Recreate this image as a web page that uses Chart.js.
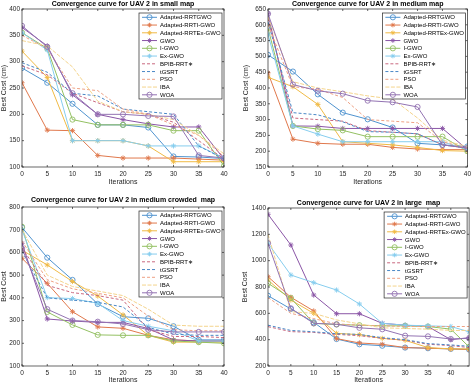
<!DOCTYPE html>
<html>
<head>
<meta charset="utf-8">
<script src="https://cdn.jsdelivr.net/npm/chart.js@4.4.0/dist/chart.umd.min.js"></script>
<style>
  html, body { margin: 0; padding: 0; background: #fff; }
  #wrap { position: relative; width: 474px; height: 386px; overflow: hidden; }
  .panel { position: absolute; width: 237px; height: 193px; }
</style>
</head>
<body>
<div id="wrap">
  <div class="panel" style="left:0;top:0"><canvas id="c1" width="237" height="193"></canvas></div>
  <div class="panel" style="left:237px;top:0"><canvas id="c2" width="237" height="193"></canvas></div>
  <div class="panel" style="left:0;top:193px"><canvas id="c3" width="237" height="193"></canvas></div>
  <div class="panel" style="left:237px;top:193px"><canvas id="c4" width="237" height="193"></canvas></div>
</div>
<script>
const seriesNames = [
  "Adapted-RRTGWO", "Adapted-RRTI-GWO", "Adapted-RRTEx-GWO", "GWO", "I-GWO",
  "Ex-GWO", "BPIB-RRT\u2217", "tGSRT", "PSO", "IBA", "WOA"
];

const iters = [0, 5, 10, 15, 20, 25, 30, 35, 40];
const itersLarge = [0, 5, 10, 15, 20, 25, 30, 35, 40, 44];

// one row per series, same order as seriesNames
const smallMapCost = [
  [288, 260, 220, 180, 180, 175, 120, 119, 116],
  [260, 170, 169, 122, 117, 117, 117, 115, 113],
  [320, 270, 150, 150, 150, 140, 110, 110, 110],
  [365, 330, 237, 200, 190, 182, 176, 176, 115],
  [355, 325, 190, 180, 180, 180, 169, 169, 102],
  [355, 322, 150, 150, 150, 140, 140, 140, 117],
  [292, 275, 240, 222, 205, 200, 185, 150, 115],
  [298, 280, 240, 235, 210, 205, 200, 140, 115],
  [350, 325, 250, 245, 210, 200, 180, 160, 120],
  [340, 330, 290, 225, 205, 200, 190, 160, 125],
  [368, 328, 240, 200, 200, 197, 196, 122, 117]
];

const mediumMapCost = [
  [505, 452, 380, 322, 301, 275, 225, 220, 215],
  [448, 238, 225, 222, 222, 212, 207, 205, 205],
  [434, 404, 348, 230, 225, 220, 212, 202, 200],
  [635, 280, 279, 272, 272, 272, 272, 272, 205],
  [590, 280, 270, 266, 246, 246, 246, 246, 200],
  [570, 280, 254, 230, 230, 230, 230, 230, 205],
  [620, 305, 300, 295, 265, 260, 255, 220, 210],
  [610, 322, 315, 293, 262, 260, 255, 220, 210],
  [600, 404, 396, 370, 300, 295, 290, 230, 210],
  [625, 420, 400, 388, 375, 365, 305, 235, 215],
  [635, 411, 391, 382, 360, 355, 340, 220, 210]
];

const crowdedMapCost = [
  [710, 577, 479, 373, 317, 310, 275, 215, 215],
  [574, 464, 339, 272, 266, 235, 215, 210, 210],
  [610, 545, 472, 408, 325, 235, 205, 205, 205],
  [640, 307, 298, 292, 292, 265, 215, 210, 210],
  [713, 338, 281, 237, 235, 235, 210, 205, 200],
  [700, 401, 397, 376, 300, 275, 255, 210, 210],
  [620, 455, 423, 410, 390, 260, 230, 230, 225],
  [605, 400, 390, 380, 360, 270, 240, 235, 235],
  [650, 480, 440, 420, 400, 320, 260, 255, 255],
  [700, 500, 450, 430, 410, 350, 280, 275, 275],
  [618, 350, 300, 295, 285, 260, 250, 250, 250]
];

const largeMapCost = [
  [734, 633, 532, 405, 365, 354, 340, 335, 330, 325],
  [878, 722, 618, 408, 375, 365, 340, 335, 330, 325],
  [853, 701, 600, 448, 438, 410, 395, 340, 330, 330],
  [1352, 1119, 739, 597, 597, 524, 510, 500, 400, 415],
  [828, 716, 524, 515, 510, 505, 505, 500, 480, 345],
  [1132, 891, 833, 777, 671, 524, 510, 505, 500, 460],
  [499, 461, 455, 440, 430, 410, 395, 365, 355, 340],
  [510, 470, 460, 445, 440, 415, 400, 370, 360, 350],
  [720, 600, 560, 520, 510, 505, 500, 500, 500, 500],
  [1200, 612, 600, 550, 520, 490, 485, 480, 470, 470],
  [1132, 638, 524, 517, 490, 479, 430, 425, 405, 410]
];

const seriesStyle = [
  { color: "#4f93cf", dash: [], marker: "circle" },
  { color: "#e0784c", dash: [], marker: "star" },
  { color: "#f0ba45", dash: [], marker: "star" },
  { color: "#8a55a6", dash: [], marker: "star" },
  { color: "#93c062", dash: [], marker: "circle" },
  { color: "#86cdee", dash: [], marker: "star" },
  { color: "#c9687f", dash: [3, 2], marker: null },
  { color: "#4a88c6", dash: [3, 2], marker: null },
  { color: "#eea184", dash: [3, 2], marker: null },
  { color: "#f4d48c", dash: [4, 1.5], marker: null },
  { color: "#9373b2", dash: [], marker: "circle" }
];

const FONT = "'Liberation Sans', Arial, sans-serif";
const AX = "#262626";

function drawMarker(ctx, type, x, y, color) {
  if (!type) return;
  ctx.save();
  ctx.setLineDash([]);
  ctx.strokeStyle = color;
  ctx.lineWidth = 0.9;
  ctx.beginPath();
  if (type === "circle") {
    ctx.arc(x, y, 2.6, 0, Math.PI * 2);
  } else {
    const r = 2.3;
    for (let k = 0; k < 4; k++) {
      const a = (k * Math.PI) / 4;
      ctx.moveTo(x - r * Math.cos(a), y - r * Math.sin(a));
      ctx.lineTo(x + r * Math.cos(a), y + r * Math.sin(a));
    }
  }
  ctx.stroke();
  ctx.restore();
}

const matlabFrame = {
  id: "matlabFrame",
  afterDatasetsDraw(chart, args, opts) {
    const ctx = chart.ctx;
    const ca = chart.chartArea;
    const xs = chart.scales.x, ys = chart.scales.y;
    ctx.save();
    // box + inward ticks
    ctx.strokeStyle = AX;
    ctx.lineWidth = 0.7;
    ctx.setLineDash([]);
    ctx.strokeRect(ca.left, ca.top, ca.right - ca.left, ca.bottom - ca.top);
    ctx.beginPath();
    xs.ticks.forEach((t) => {
      const px = xs.getPixelForValue(t.value);
      ctx.moveTo(px, ca.bottom); ctx.lineTo(px, ca.bottom - 2);
      ctx.moveTo(px, ca.top); ctx.lineTo(px, ca.top + 2);
    });
    ys.ticks.forEach((t) => {
      const py = ys.getPixelForValue(t.value);
      ctx.moveTo(ca.left, py); ctx.lineTo(ca.left + 2, py);
      ctx.moveTo(ca.right, py); ctx.lineTo(ca.right - 2, py);
    });
    ctx.stroke();

    // title
    ctx.fillStyle = "#000";
    ctx.font = "bold 7px " + FONT;
    ctx.textAlign = "center";
    ctx.textBaseline = "middle";
    ctx.fillText(opts.title, (ca.left + ca.right) / 2, ca.top - opts.titleGap);

    // legend box inside top-right
    const w = 83, h = 86;
    const bx = ca.right - 2 - w, by = ca.top + 4;
    ctx.fillStyle = "#fff";
    ctx.fillRect(bx, by, w, h);
    ctx.strokeStyle = AX;
    ctx.lineWidth = 0.7;
    ctx.strokeRect(bx, by, w, h);
    ctx.font = "6px " + FONT;
    ctx.textAlign = "left";
    chart.data.datasets.forEach((ds, i) => {
      const st = seriesStyle[i];
      const y = by + 4.3 + i * 7.75;
      ctx.strokeStyle = st.color;
      ctx.lineWidth = 1;
      ctx.setLineDash(st.dash);
      ctx.beginPath();
      ctx.moveTo(bx + 3, y); ctx.lineTo(bx + 18, y);
      ctx.stroke();
      drawMarker(ctx, st.marker, bx + 10.5, y, st.color);
      ctx.fillStyle = "#000";
      ctx.fillText(ds.label, bx + 21, y + 0.5);
    });
    ctx.restore();
  }
};

function makeChart(id, cfg) {
  const datasets = cfg.rows.map((row, i) => {
    const st = seriesStyle[i];
    return {
      label: seriesNames[i],
      data: cfg.xs.map((x, j) => ({ x: x, y: row[j] })),
      borderColor: st.color,
      borderWidth: 1,
      borderDash: st.dash,
      pointStyle: st.marker || false,
      pointRadius: st.marker ? 2.6 : 0,
      pointBorderWidth: 0.9,
      pointBorderColor: st.color,
      pointBackgroundColor: "rgba(0,0,0,0)",
      tension: 0,
      fill: false,
      order: 11 - i
    };
  });

  return new Chart(document.getElementById(id), {
    type: "line",
    data: { datasets: datasets },
    options: {
      responsive: false,
      animation: false,
      events: [],
      layout: { padding: { top: cfg.padTop, right: cfg.padRight, left: 0, bottom: 0 } },
      plugins: {
        legend: { display: false },
        title: { display: false },
        tooltip: { enabled: false },
        matlabFrame: { title: cfg.title, titleGap: cfg.titleGap }
      },
      scales: {
        x: {
          type: "linear",
          min: 0,
          max: cfg.xMax,
          grid: { display: false, drawTicks: false },
          border: { display: false },
          ticks: { stepSize: 5, color: AX, font: { size: 6.5, family: FONT }, padding: 3, maxRotation: 0 },
          title: { display: true, text: "Iterations", color: AX, font: { size: 7, family: FONT }, padding: { top: 0, bottom: cfg.xTitlePad } },
          afterBuildTicks: (s) => { s.ticks = s.ticks.filter((t) => t.value <= 40); },
          afterFit: (s) => { s.height = cfg.xHeight; }
        },
        y: {
          min: cfg.yMin,
          max: cfg.yMax,
          grid: { display: false, drawTicks: false },
          border: { display: false },
          ticks: { stepSize: cfg.yStep, color: AX, font: { size: 6.5, family: FONT }, padding: 2, callback: (v) => String(v) },
          title: { display: true, text: cfg.yTitle, color: AX, font: { size: 7, family: FONT }, padding: { top: cfg.yTitlePad, bottom: 0 } },
          afterFit: (s) => { s.width = cfg.yWidth; }
        }
      }
    },
    plugins: [matlabFrame]
  });
}

makeChart("c1", {
  title: "Convergence curve for UAV 2 in small map", titleGap: 5,
  yTitle: "Best Cost (cm)", yMin: 100, yMax: 400, yStep: 50,
  xs: iters, xMax: 40, rows: smallMapCost,
  padTop: 9, padRight: 13, yWidth: 22, xHeight: 26, xTitlePad: 6.5, yTitlePad: 0
});
makeChart("c2", {
  title: "Convergence curve for UAV 2 in medium map", titleGap: 5,
  yTitle: "Best Cost (cm)", yMin: 150, yMax: 650, yStep: 50,
  xs: iters, xMax: 40, rows: mediumMapCost,
  padTop: 9, padRight: 4, yWidth: 31, xHeight: 26, xTitlePad: 6.5, yTitlePad: 5
});
makeChart("c3", {
  title: "Convergence curve for UAV 2 in medium crowded  map", titleGap: 7,
  yTitle: "Best Cost", yMin: 100, yMax: 800, yStep: 100,
  xs: iters, xMax: 40, rows: crowdedMapCost,
  padTop: 14, padRight: 13, yWidth: 22, xHeight: 20, xTitlePad: 1.5, yTitlePad: 0
});
makeChart("c4", {
  title: "Convergence curve for UAV 2 in large  map", titleGap: 5,
  yTitle: "Best Cost", yMin: 200, yMax: 1400, yStep: 200,
  xs: itersLarge, xMax: 44, rows: largeMapCost,
  padTop: 15, padRight: 4, yWidth: 31, xHeight: 20, xTitlePad: 1.5, yTitlePad: 4
});
</script>
</body>
</html>
